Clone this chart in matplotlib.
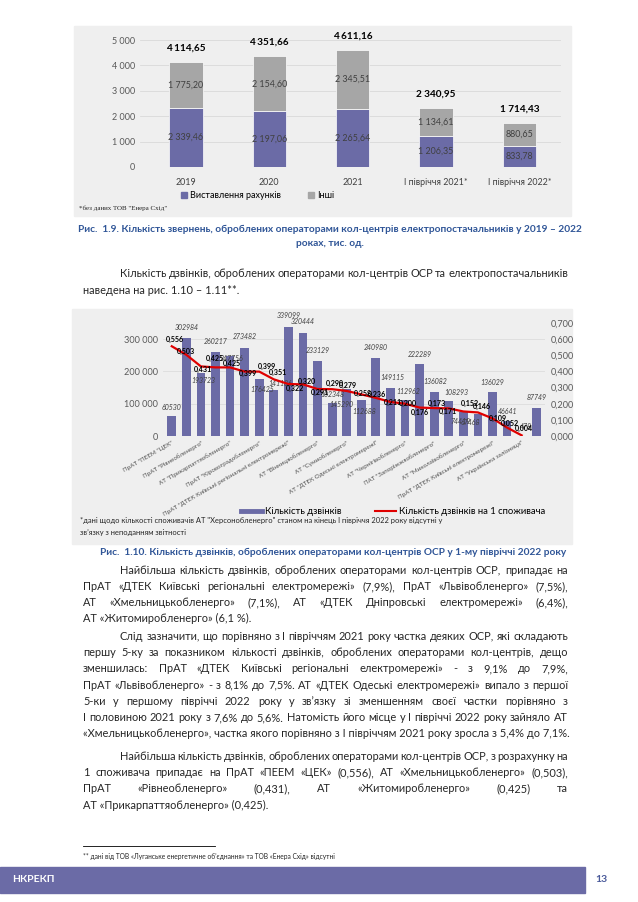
import matplotlib
matplotlib.use('Agg')
import matplotlib.pyplot as plt
from matplotlib.patches import Rectangle, Patch
from matplotlib.lines import Line2D

W, H = 638, 902
plt.rcParams['font.family'] = ['Lato', 'DejaVu Sans']

# data for fig 1.9 (thousand requests)
periods = ['2019', '2020', '2021', 'I півріччя 2021*', 'I півріччя 2022*']
billing = [2339.46, 2197.06, 2265.64, 1206.35, 833.78]
other = [1775.20, 2154.60, 2345.51, 1134.61, 880.65]
totals = [4114.65, 4351.66, 4611.16, 2340.95, 1714.43]

# data for fig 1.10
calls = [60530, 302984, 193723, 260217, 247756, 273482, 176425, 141186, 339099,
         320444, 233129, 102348, 145290, 112688, 240980, 149115, 112962, 222289,
         136082, 108293, 74419, 67468, 136029, 46641, 478, 87749]
per_consumer = [0.556, 0.503, 0.431, 0.425, 0.425, 0.399, 0.399, 0.351, 0.322,
                0.320, 0.291, 0.290, 0.279, 0.258, 0.236, 0.211, 0.200, 0.176,
                0.173, 0.171, 0.152, 0.146, 0.109, 0.052, 0.004]
osr_labels = ['ПрАТ "ПЕЕМ "ЦЕК"', 'ПрАТ "Рівнеобленерго"', 'АТ "Прикарпаттяобленерго"',
              'ПрАТ "Кіровоградобленерго"', 'ПрАТ "ДТЕК Київські регіональні електромережі"',
              'АТ "Вінницяобленерго"', 'АТ "Сумиобленерго"', 'АТ "ДТЕК Одеські електромережі"',
              'АТ "Чернігівобленерго"', 'ПАТ "Запоріжжяобленерго"', 'АТ "Миколаївобленерго"',
              'ПрАТ "ДТЕК Київські електромережі"', 'АТ "Українська залізниця"']

# label nudges in pixels (dx, dy up)
calls_nudge = [(0, 9), (0, 11), (2, -7), (0, 10), (2, -2), (0, 11), (3, -10), (6, 7),
               (0, 11), (0, 11), (0, 10), (0, 8), (-5, -15), (3, -12), (0, 11), (2, 10),
               (3, 8), (0, 10), (1, 11), (8, 9), (-3, -10), (-8, -8), (0, 10), (0, 9),
               (4, 9), (0, 10)]
ratio_nudge = [(3, 7), (0, 3), (2, -3), (-1, 9), (2, 4), (3, -2), (8, 5), (4, 7), (7, -4),
               (4, 3), (2, -3), (3, 6), (1, 6), (2, 1), (1, 3), (2, -1), (3, 0), (0, -5),
               (3, 5), (-1, -3), (7, 8), (4, 6), (5, 0), (3, 4), (2, 7)]

PURPLE = '#6b6ba6'
GREY = '#a6a6a6'
BG = '#efefef'
BLUE = '#2f5597'
TXT = '#262626'
RED = '#e00000'

fig = plt.figure(figsize=(W / 100, H / 100), dpi=100)
fig.patch.set_facecolor('white')


def fx(x):
    return x / W


def fy(y):
    return 1 - y / H


def box(x0, y0, x1, y1, color):
    fig.patches.append(Rectangle((fx(x0), fy(y1)), (x1 - x0) / W, (y1 - y0) / H,
                                 transform=fig.transFigure, color=color, zorder=-5))


def axes_px(x0, y0, x1, y1):
    return fig.add_axes([fx(x0), fy(y1), (x1 - x0) / W, (y1 - y0) / H])


def num(v, d=2):
    return f'{v:,.{d}f}'.replace(',', ' ').replace('.', ',')


def clean(ax):
    for s in ax.spines.values():
        s.set_visible(False)
    ax.tick_params(length=0)
    ax.set_facecolor('none')


# ---------- fig 1.9 ----------
box(74, 26, 571, 216, BG)
ax1 = axes_px(140, 40, 561, 167)
clean(ax1)
xs = range(len(periods))
b1 = ax1.bar(xs, billing, width=0.4, color=PURPLE, edgecolor='white', linewidth=0.5, zorder=3)
b2 = ax1.bar(xs, other, width=0.4, bottom=billing, color=GREY, edgecolor='white', linewidth=0.5, zorder=3)
ax1.bar_label(b1, labels=[num(v) for v in billing], label_type='center', fontsize=6.4, color='#404040')
ax1.bar_label(b2, labels=[num(v) for v in other], label_type='center', fontsize=6.4, color='#404040')
for i, t in enumerate(totals):
    ax1.annotate(num(t), (i, t), xytext=(0, 10), textcoords='offset points', ha='center', va='center',
                 fontsize=7.2, fontweight='bold', color='black')
ax1.set_xlim(-0.55, 4.5)
ax1.set_ylim(0, 5000)
ax1.set_yticks(range(0, 5001, 1000))
ax1.set_yticklabels([num(v, 0) for v in range(0, 5001, 1000)], fontsize=6.5, color='#595959')
ax1.set_xticks(list(xs))
ax1.set_xticklabels(periods, fontsize=6.4, color='#404040')
ax1.tick_params(axis='x', pad=8)
ax1.grid(axis='y', color='#d9d9d9', linewidth=0.6, zorder=0)
ax1.set_axisbelow(True)
fig.legend(handles=[Patch(color=PURPLE, label='Виставлення рахунків'), Patch(color=GREY, label='Інші')],
           loc='center', bbox_to_anchor=(fx(258), fy(196)), ncol=2, frameon=False, fontsize=6.5,
           handlelength=0.6, handleheight=0.6, columnspacing=3.0, handletextpad=0.4)
fig.text(fx(79), fy(208), '*без даних ТОВ "Енера Схід"', fontsize=5, family='Liberation Serif',
         va='center', color=TXT)

fig.text(fx(330), fy(229), 'Рис.  1.9. Кількість звернень, оброблених операторами кол-центрів '
         'електропостачальників у 2019 – 2022', ha='center', va='center', fontsize=7.3,
         fontweight='bold', color=BLUE)
fig.text(fx(330), fy(244), 'роках, тис. од.', ha='center', va='center', fontsize=7.3,
         fontweight='bold', color=BLUE)

# ---------- body text helper ----------
renderer = fig.canvas.get_renderer()
BODY = 7.9


def line(txt, y, x0=83, x1=568, justify=True, size=BODY):
    if not justify:
        fig.text(fx(x0), fy(y), txt, fontsize=size, va='center', color=TXT)
        return
    words = txt.split(' ')
    texts = [fig.text(0, 0, w, fontsize=size, va='center', color=TXT) for w in words]
    widths = [t.get_window_extent(renderer=renderer).width for t in texts]
    gap = (x1 - x0 - sum(widths)) / (len(words) - 1)
    x = x0
    for t, w in zip(texts, widths):
        t.set_position((fx(x), fy(y)))
        x += w + gap


line('Кількість дзвінків, оброблених операторами кол-центрів ОСР та електропостачальників', 273, x0=120)
line('наведена на рис. 1.10 – 1.11**.', 290, justify=False)

# ---------- fig 1.10 ----------
box(72, 309, 572, 544, BG)
ax2 = axes_px(163, 323, 545, 436)
clean(ax2)
xb = list(range(len(calls)))
ax2.bar(xb, calls, width=0.6, color=PURPLE, zorder=2)
for i, v in enumerate(calls):
    dx, dy = calls_nudge[i]
    ax2.annotate(str(v), (i, v), xytext=(dx * 0.72, dy * 0.72), textcoords='offset points',
                 ha='center', va='center', fontsize=5, style='italic', color='#404040')
ax2.set_xlim(-0.6, 25.6)
ax2.set_ylim(0, 350000)
ax2.set_yticks([0, 100000, 200000, 300000])
ax2.set_yticklabels([num(v, 0) for v in [0, 100000, 200000, 300000]], fontsize=6.6, color='#595959')
ax2.set_xticks(xb[::2])
ax2.set_xticklabels(osr_labels, rotation=30, ha='right', rotation_mode='anchor', fontsize=4.5,
                    color='#505050')
ax2.tick_params(axis='x', pad=3)
ax2.grid(axis='y', color='#dcdcdc', linewidth=0.6, zorder=0)
ax2.set_axisbelow(True)

ax3 = ax2.twinx()
clean(ax3)
xl = list(range(len(per_consumer)))
ax3.plot(xl, per_consumer, color=RED, linewidth=1.6, solid_joinstyle='round', zorder=3)
for i, v in enumerate(per_consumer):
    dx, dy = ratio_nudge[i]
    ax3.annotate(num(v, 3), (i, v), xytext=(dx * 0.72, dy * 0.72), textcoords='offset points',
                 ha='center', va='center', fontsize=5.1, fontweight='bold', color='black')
ax3.set_ylim(0, 0.7)
ax3.set_yticks([i / 10 for i in range(8)])
ax3.set_yticklabels([num(i / 10, 3) for i in range(8)], fontsize=6.6, color='#595959')
ax3.tick_params(axis='y', pad=4)

fig.legend(handles=[Line2D([], [], color=PURPLE, lw=3.5, label='Кількість дзвінків'),
                    Line2D([], [], color=RED, lw=1.5, label='Кількість дзвінків на 1 споживача')],
           loc='center', bbox_to_anchor=(fx(393), fy(512)), ncol=2, frameon=False, fontsize=6.8,
           handlelength=2.2, columnspacing=3.6, handletextpad=0.3)
fig.text(fx(80), fy(521), '*дані щодо кількості споживачів АТ "Херсонобленерго" станом на кінець '
         'І півріччя 2022 року відсутні у', fontsize=5.4, va='center', color=TXT)
fig.text(fx(80), fy(533), 'зв’язку з неподанням звітності', fontsize=5.4, va='center', color=TXT)

fig.text(fx(333), fy(552), 'Рис.  1.10. Кількість дзвінків, оброблених операторами кол-центрів ОСР '
         'у 1-му півріччі 2022 року', ha='center', va='center', fontsize=7.3, fontweight='bold',
         color=BLUE)

# ---------- paragraphs ----------
para1 = ['Найбільша кількість дзвінків, оброблених операторами кол-центрів ОСР, припадає на',
         'ПрАТ «ДТЕК Київські регіональні електромережі» (7,9%), ПрАТ «Львівобленерго» (7,5%),',
         'АТ «Хмельницькобленерго» (7,1%), АТ «ДТЕК Дніпровські електромережі» (6,4%),',
         'АТ «Житомиробленерго» (6,1 %).']
para2 = ['Слід зазначити, що порівняно з І півріччям 2021 року частка деяких ОСР, які складають',
         'першу 5-ку за показником кількості дзвінків, оброблених операторами кол-центрів, дещо',
         'зменшилась: ПрАТ «ДТЕК Київські регіональні електромережі» - з 9,1% до 7,9%,',
         'ПрАТ «Львівобленерго» - з 8,1% до 7,5%. АТ «ДТЕК Одеські електромережі» випало з першої',
         '5-ки у першому півріччі 2022 року у зв’язку зі зменшенням своєї частки порівняно з',
         'І половиною 2021 року з 7,6% до 5,6%. Натомість його місце у І півріччі 2022 року зайняло АТ',
         '«Хмельницькобленерго», частка якого порівняно з І півріччям 2021 року зросла з 5,4% до 7,1%.']
para3 = ['Найбільша кількість дзвінків, оброблених операторами кол-центрів ОСР, з розрахунку на',
         '1 споживача припадає на ПрАТ «ПЕЕМ «ЦЕК» (0,556), АТ «Хмельницькобленерго» (0,503),',
         'ПрАТ «Рівнеобленерго» (0,431), АТ «Житомиробленерго» (0,425) та',
         'АТ «Прикарпаттяобленерго» (0,425).']

step = 16.3
y = 570
for para, gap in [(para1, 0), (para2, 1), (para3, 6)]:
    y += gap
    for k, txt in enumerate(para):
        last = k == len(para) - 1
        line(txt, y, x0=120 if k == 0 else 83, justify=not last)
        y += step

# footnote and footer
fig.add_artist(Line2D([fx(83), fx(215)], [fy(846), fy(846)], color='black', lw=0.6))
fig.text(fx(83), fy(857), '** дані від ТОВ «Луганське енергетичне об’єднання» та ТОВ «Енера Схід» відсутні',
         fontsize=4.8, va='center', color=TXT)
box(0, 867, 585, 893, PURPLE)
fig.text(fx(12), fy(880), 'НКРЕКП', fontsize=7.5, fontweight='bold', color='white', va='center')
fig.text(fx(601), fy(880), '13', fontsize=7.5, fontweight='bold', color='#4a5a9a', va='center',
         ha='center')

fig.savefig('out.png', dpi=100)
